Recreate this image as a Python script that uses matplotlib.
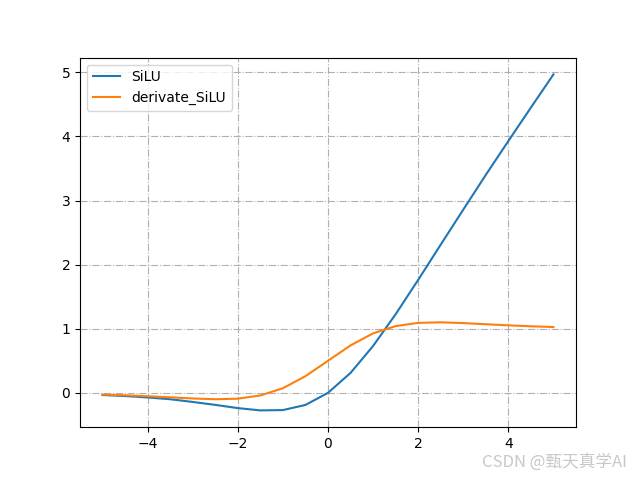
import matplotlib
matplotlib.use("Agg")
import matplotlib.pyplot as plt

x = [-5, -4.5, -4, -3.5, -3, -2.5, -2, -1.5, -1, -0.5, 0, 0.5, 1, 1.5, 2, 2.5, 3, 3.5, 4, 4.5, 5]
silu = [-0.034, -0.050, -0.072, -0.100, -0.142, -0.188, -0.238, -0.274, -0.269, -0.189, 0.0,
        0.311, 0.731, 1.226, 1.762, 2.312, 2.858, 3.400, 3.928, 4.450, 4.967]
dsilu = [-0.027, -0.038, -0.053, -0.070, -0.088, -0.100, -0.091, -0.041, 0.072, 0.260, 0.5,
         0.740, 0.928, 1.041, 1.091, 1.100, 1.088, 1.070, 1.053, 1.038, 1.027]

fig, ax = plt.subplots(figsize=(6.4, 4.8), dpi=100)
ax.plot(x, silu, label="SiLU")
ax.plot(x, dsilu, label="derivate_SiLU")
ax.grid(True, linestyle="-.", color="#b0b0b0")
ax.legend(loc="upper left")
fig.text(0.98, 0.02, "CSDN @甄天真学AI", ha="right", va="bottom", fontsize=12,
         color="#c8c8c8", family=["Noto Sans CJK SC", "DejaVu Sans"])
fig.savefig("out.png")
